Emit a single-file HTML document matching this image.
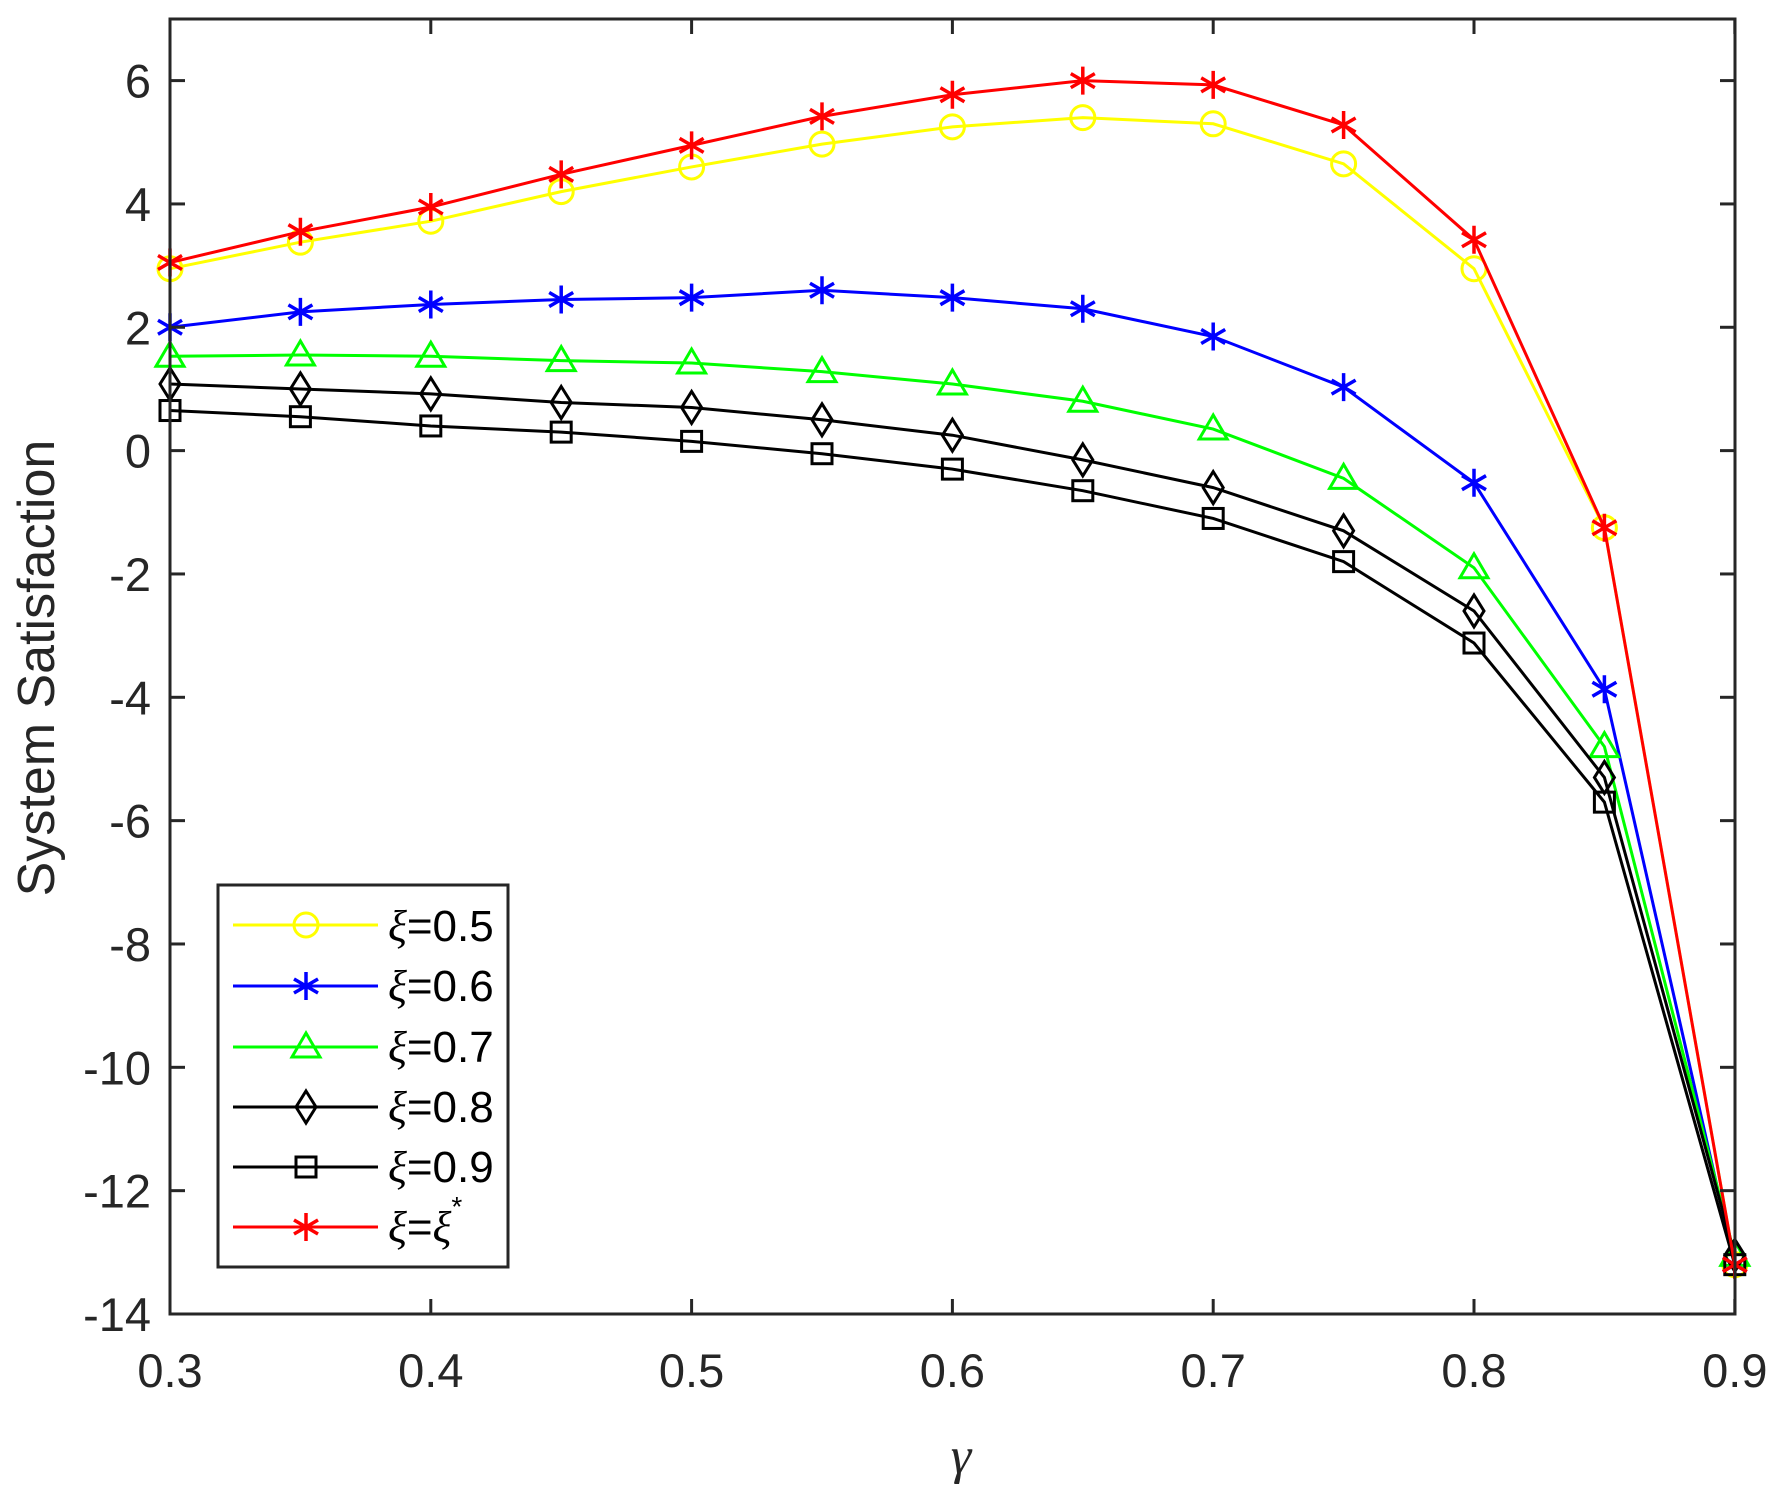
<!DOCTYPE html>
<html><head><meta charset="utf-8"><style>
html,body{margin:0;padding:0;background:#fff;}
svg{display:block;font-family:"Liberation Sans",Arial,sans-serif;}
</style></head><body>
<svg id="s" width="1779" height="1490" viewBox="0 0 1779 1490" xmlns="http://www.w3.org/2000/svg">
<rect width="1779" height="1490" fill="#fff"/>
<g id="plot"></g>
<rect x="170" y="19" width="1565" height="1295" fill="none" stroke="#262626" stroke-width="3"/>
<g id="ticks" stroke="#262626" stroke-width="3"></g>
<g id="yl" font-size="47" fill="#262626" text-anchor="end"></g>
<g id="xl" font-size="47" fill="#262626" text-anchor="middle"></g>
<text x="961" y="1473" font-size="52" font-family="Liberation Serif,serif" font-style="italic" text-anchor="middle" fill="#262626">γ</text>
<text transform="translate(54,668) rotate(-90)" font-size="52" text-anchor="middle" fill="#262626">System Satisfaction</text>
<rect x="218" y="885" width="290" height="382" fill="#fff" stroke="#262626" stroke-width="3"/>
<g id="leg"></g>
<g font-size="44" fill="#000">
<text x="388" y="941"><tspan font-family="Liberation Serif,serif" font-style="italic">ξ</tspan>=0.5</text>
<text x="388" y="1001"><tspan font-family="Liberation Serif,serif" font-style="italic">ξ</tspan>=0.6</text>
<text x="388" y="1062"><tspan font-family="Liberation Serif,serif" font-style="italic">ξ</tspan>=0.7</text>
<text x="388" y="1122"><tspan font-family="Liberation Serif,serif" font-style="italic">ξ</tspan>=0.8</text>
<text x="388" y="1182"><tspan font-family="Liberation Serif,serif" font-style="italic">ξ</tspan>=0.9</text>
<text x="388" y="1242"><tspan font-family="Liberation Serif,serif" font-style="italic">ξ</tspan>=<tspan font-family="Liberation Serif,serif" font-style="italic">ξ</tspan><tspan dy="-26" font-size="28">*</tspan></text>
</g>
</svg>
<script>
var NS="http://www.w3.org/2000/svg";
function X(i){return 170+i*130.4;}
function Y(v){return 80.6+(6-v)*61.67;}
function el(p,t,a){var e=document.createElementNS(NS,t);for(var k in a)e.setAttribute(k,a[k]);p.appendChild(e);return e;}
var tk=document.getElementById('ticks'),yl=document.getElementById('yl'),xl=document.getElementById('xl');
for(var v=6;v>=-14;v-=2){var y=Y(v);el(tk,'line',{x1:170,y1:y,x2:185,y2:y});el(tk,'line',{x1:1735,y1:y,x2:1720,y2:y});
 var t=el(yl,'text',{x:151,y:y+17});t.textContent=v;}
for(var i=0;i<=6;i++){var x=170+i*260.8;el(tk,'line',{x1:x,y1:1314,x2:x,y2:1299});el(tk,'line',{x1:x,y1:19,x2:x,y2:34});
 var t=el(xl,'text',{x:x,y:1387});t.textContent=(0.3+i*0.1).toFixed(1);}
var S=[
["#ffff00","o",[2.95,3.38,3.72,4.2,4.6,4.97,5.25,5.4,5.3,4.65,2.95,-1.25,-13.2]],
["#0000ff","*",[2.0,2.25,2.37,2.45,2.48,2.6,2.48,2.3,1.85,1.03,-0.52,-3.87,-13.2]],
["#00ff00","^",[1.53,1.55,1.53,1.46,1.42,1.28,1.08,0.8,0.35,-0.45,-1.9,-4.8,-13.05]],
["#000000","d",[1.08,1.0,0.92,0.78,0.7,0.5,0.25,-0.15,-0.6,-1.3,-2.6,-5.3,-13.05]],
["#000000","s",[0.65,0.55,0.4,0.3,0.15,-0.05,-0.3,-0.65,-1.1,-1.8,-3.12,-5.7,-13.2]],
["#ff0000","*",[3.05,3.55,3.95,4.48,4.95,5.42,5.77,6.0,5.93,5.28,3.42,-1.25,-13.2]]];
function mk(g,t,x,y,c){var a={fill:"none",stroke:c,"stroke-width":3};
 if(t=="o"){a.cx=x;a.cy=y;a.r=12;el(g,'circle',a);}
 else if(t=="s"){a.x=x-10;a.y=y-10;a.width=20;a.height=20;el(g,'rect',a);}
 else if(t=="^"){a.points=(x)+","+(y-14)+" "+(x-14)+","+(y+10)+" "+(x+14)+","+(y+10);el(g,'polygon',a);}
 else if(t=="d"){a.points=x+","+(y-16)+" "+(x+10)+","+y+" "+x+","+(y+16)+" "+(x-10)+","+y;el(g,'polygon',a);}
 else {var d="M"+x+" "+(y-14)+"V"+(y+14)+"M"+(x-12)+" "+(y-7)+"L"+(x+12)+" "+(y+7)+"M"+(x-12)+" "+(y+7)+"L"+(x+12)+" "+(y-7);el(g,'path',{d:d,stroke:c,"stroke-width":3.5,fill:"none"});}}
var P=document.getElementById('plot'),L=document.getElementById('leg');
var ly=[925,986,1047,1107,1167,1227];
S.forEach(function(s,k){var pts=s[2].map(function(v,i){return X(i)+","+Y(v);}).join(" ");
 el(P,'polyline',{points:pts,fill:"none",stroke:s[0],"stroke-width":3});
 s[2].forEach(function(v,i){mk(P,s[1],X(i),Y(v),s[0]);});
 el(L,'line',{x1:233,y1:ly[k],x2:378,y2:ly[k],stroke:s[0],"stroke-width":3});
 mk(L,s[1],306,ly[k],s[0]);});
</script>
</body></html>
